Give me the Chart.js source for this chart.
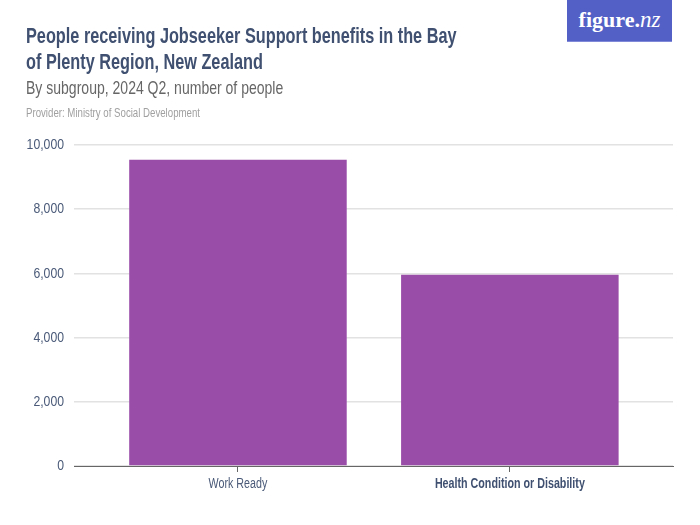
<!DOCTYPE html>
<html><head><meta charset="utf-8">
<script src="https://cdn.jsdelivr.net/npm/chart.js@4"></script>
<style>
html,body{margin:0;padding:0;background:#fff;width:700px;height:525px;overflow:hidden}
#wrap{position:relative;width:700px;height:525px}
canvas{position:absolute;left:0;top:0}
.t{position:absolute;left:26px;white-space:nowrap;font-family:"Liberation Sans",sans-serif;transform-origin:0 0}
#title{top:23px;font-size:21.5px;line-height:26px;font-weight:700;color:#3f5070;transform:scaleX(.757)}
#sub{top:78px;font-size:18.5px;line-height:20px;color:#666;transform:scaleX(.758)}
#prov{top:106px;font-size:12.5px;line-height:15px;color:#a0a0a0;transform:scaleX(.773)}
#logo{position:absolute;left:567px;top:0;width:105px;height:42px;background:#5361c6;border-bottom:1px solid #8089d8;box-sizing:border-box;color:#fff;font-family:"Liberation Serif",serif;font-size:22px;line-height:40px;text-align:center;font-weight:700}
#logo i{font-size:23px;font-weight:400}
</style></head><body>
<div id="wrap">
<canvas id="c" width="700" height="525"></canvas>
<div class="t" id="title">People receiving Jobseeker Support benefits in the Bay<br>of Plenty Region, New Zealand</div>
<div class="t" id="sub">By subgroup, 2024 Q2, number of people</div>
<div class="t" id="prov">Provider: Ministry of Social Development</div>
<div id="logo">figure.<i>nz</i></div>
</div>
<script>
const categories=["Work Ready","Health Condition or Disability"];
const peopleCounts=[9540,5960];
const yTicks=[0,2000,4000,6000,8000,10000];
const font='"Liberation Sans",sans-serif';
const narrowText={id:'narrowText',beforeDraw(chart){
  const ctx=chart.ctx,orig=ctx.fillText.bind(ctx);
  ctx.fillText=function(s,x,y){const k=ctx.font.includes('15px')?.815:.765;ctx.save();ctx.translate(x,y);ctx.scale(k,1);orig(s,0,0);ctx.restore();};
}};
new Chart(document.getElementById('c'),{
 type:'bar',
 data:{labels:categories.map((_,i)=>i),datasets:[{data:peopleCounts,backgroundColor:'#994ca8',borderWidth:0,categoryPercentage:1,barPercentage:0.8}]},
 plugins:[narrowText],
 options:{
  responsive:false,animation:false,devicePixelRatio:1,
  layout:{padding:{left:0,right:27,top:145,bottom:0}},
  plugins:{legend:{display:false},tooltip:{enabled:false}},
  scales:{
   x:{type:'linear',offset:false,min:-0.603,max:1.6,
    afterBuildTicks(a){a.ticks=categories.map((_,i)=>({value:i}));},
    afterFit(a){a.height=59;},
    border:{color:'#666',width:1},
    grid:{display:true,offset:false,drawOnChartArea:false,drawTicks:true,tickLength:6,color:'#666'},
    ticks:{autoSkip:false,maxRotation:0,padding:4,color:c=>c.index===1?'#3f5070':'#4a5a78',font:c=>({family:font,size:14,weight:c.index===1?'bold':'normal'}),callback:v=>categories[v]}
   },
   y:{min:0,max:10000,
    afterFit(a){a.width=74;},
    afterBuildTicks(a){a.ticks=yTicks.map(v=>({value:v}));},
    border:{display:false},
    grid:{color:'#e2e2e2',lineWidth:1.5,drawTicks:false},
    ticks:{padding:10,color:'#4a5a78',font:{family:font,size:15},callback:v=>v.toLocaleString('en-US')}
   }
  }
 }
});
</script>
</body></html>
